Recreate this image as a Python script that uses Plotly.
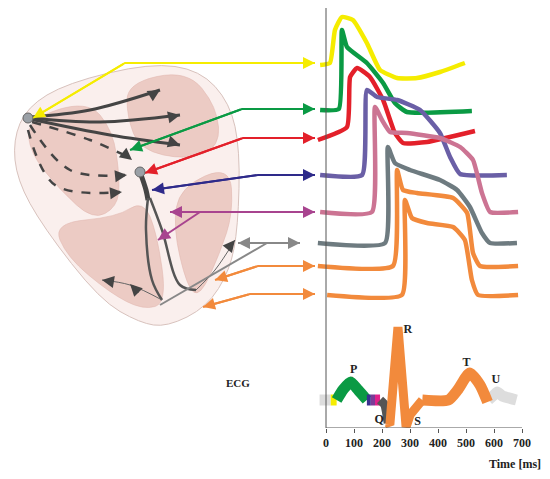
import plotly.graph_objects as go

# ---- action potentials: time [ms], level (px from top, drawn as negative) ----
yel_t = [-21, 14, 32, 57, 96, 146, 193, 254, 325, 407, 496]
yel_v = [65, 63, 30, 17, 20, 43, 70, 78, 78, 72, 63]
grn_t = [-21, 46, 57, 75, 146, 204, 246, 289, 521]
grn_v = [110, 109, 30, 47, 63, 83, 103, 112, 111]
red_t = [-29, 75, 86, 111, 157, 204, 246, 275, 361, 532]
red_v = [140, 127, 77, 68, 77, 100, 133, 143, 142, 131]
pur_t = [-21, 129, 146, 182, 254, 336, 407, 443, 479, 646]
pur_v = [175, 175, 90, 97, 100, 110, 133, 157, 174, 175]
pnk_t = [-21, 164, 175, 200, 229, 289, 407, 479, 525, 557, 586, 686]
pnk_v = [212, 212, 107, 120, 132, 133, 138, 147, 160, 193, 212, 212]
gry_t = [-29, 211, 221, 246, 300, 407, 468, 514, 557, 586, 682]
gry_v = [243, 243, 147, 163, 170, 180, 190, 207, 233, 243, 243]
or1_t = [-29, 239, 254, 275, 325, 454, 504, 525, 550, 686]
or1_v = [266, 266, 170, 190, 193, 198, 213, 253, 266, 266]
or2_t = [4, 271, 282, 307, 361, 454, 496, 521, 543, 686]
or2_v = [295, 295, 200, 218, 223, 227, 240, 280, 295, 295]

# ---- ECG segments ----
ecg_lead_t = [-23, 17]; ecg_lead_v = [400, 400]
ecg_sa_t = [17, 38]; ecg_sa_v = [400, 400]
ecg_p_t = [38, 60, 88, 115, 146]; ecg_p_v = [400, 390, 382, 390, 400]
ecg_pr_t = [88, 115, 140]; ecg_pr_v = [378, 386, 395]
ecg_av_t = [146, 160]; ecg_his_t = [160, 175]; ecg_bb_t = [175, 193]
ecg_pq_t = [193, 210, 222]; ecg_pq_v = [400, 405, 423]
ecg_qrs_t = [222, 228, 257, 286, 300, 344]
ecg_qrs_v = [423, 425, 327, 427, 415, 400]
ecg_t_t = [344, 437, 470, 513, 550, 577]
ecg_t_v = [400, 400, 390, 373, 385, 402]
ecg_u_t = [580, 600, 612, 630, 680]; ecg_u_v = [400, 395, 392, 396, 400]

ecg_labels = ["P", "Q", "R", "S", "T", "U"]
ecg_lab_t = [99, 190, 292, 327, 502, 607]
ecg_lab_v = [370, 420, 330, 422, 363, 380]
x_ticks = [0, 100, 200, 300, 400, 500, 600, 700]

YEL, GRN, RED, PUR, PNK, GRY, ORG = "#f5ec00", "#0a9a44", "#e3202a", "#6a5fa6", "#cc7493", "#6e7b80", "#f28a3c"
OFF = 8  # page body offset

fig = go.Figure()

def ap(t, v, c, w=4.5, shape="spline", sm=0.45):
    fig.add_trace(go.Scatter(x=t, y=[-a for a in v], mode="lines",
                             line=dict(color=c, width=w, shape=shape, smoothing=sm),
                             hoverinfo="skip", showlegend=False))

for t, v, c in [(yel_t, yel_v, YEL), (grn_t, grn_v, GRN), (red_t, red_v, RED),
                (pur_t, pur_v, PUR), (pnk_t, pnk_v, PNK), (gry_t, gry_v, GRY),
                (or1_t, or1_v, ORG), (or2_t, or2_v, ORG)]:
    ap(t, v, c)

ap(ecg_lead_t, ecg_lead_v, "#dddddd", 11, "linear")
ap(ecg_u_t, ecg_u_v, "#dddddd", 11)
ap(ecg_sa_t, ecg_sa_v, YEL, 11, "linear")
ap(ecg_pr_t, ecg_pr_v, RED, 4)
ap(ecg_p_t, ecg_p_v, GRN, 11)
ap(ecg_av_t, [400, 400], "#3a2f8f", 11, "linear")
ap(ecg_his_t, [400, 400], "#7b3a96", 11, "linear")
ap(ecg_bb_t, [400, 400], "#e0208a", 11, "linear")
ap(ecg_pq_t, ecg_pq_v, "#555555", 9)
ap(ecg_t_t, ecg_t_v, ORG, 11, "spline", 0.6)
ap(ecg_qrs_t, ecg_qrs_v, ORG, 9, "linear")

fig.add_trace(go.Scatter(x=ecg_lab_t, y=[-a for a in ecg_lab_v], mode="text", text=ecg_labels,
                         textfont=dict(family="Liberation Serif", size=12, color="#222", weight="bold"),
                         hoverinfo="skip", showlegend=False))

# ---- illustration (pixel coords, x2/y2) ----
def spath(pts):
    n = len(pts)
    mids = [((pts[i][0] + pts[(i + 1) % n][0]) / 2, (pts[i][1] + pts[(i + 1) % n][1]) / 2) for i in range(n)]
    d = f"M {mids[-1][0]},{mids[-1][1]} "
    for i in range(n):
        d += f"Q {pts[i][0]},{pts[i][1]} {mids[i][0]},{mids[i][1]} "
    return d + "Z"

shapes = []
heart = [(13, 140), (27, 107), (67, 83), (150, 63), (200, 70), (230, 103), (240, 150), (238, 227),
         (230, 270), (207, 307), (167, 327), (140, 323), (100, 300), (43, 227), (17, 180)]
shapes.append(dict(type="path", path=spath(heart), xref="x2", yref="y2", fillcolor="#faefed",
                   line=dict(color="#d8c2bd", width=1), layer="below"))
chambers = [
    [(27, 120), (87, 100), (113, 130), (120, 180), (117, 207), (93, 220), (60, 190), (30, 153)],
    [(127, 83), (187, 70), (217, 107), (220, 147), (187, 160), (140, 150), (127, 117)],
    [(53, 223), (117, 217), (143, 200), (157, 233), (167, 303), (143, 310), (110, 293), (67, 257)],
    [(180, 187), (230, 165), (233, 213), (220, 253), (200, 297), (187, 287), (173, 227)],
]
for c in chambers:
    shapes.append(dict(type="path", path=spath(c), xref="x2", yref="y2", fillcolor="#eccbc4",
                       line=dict(color="#dfb3aa", width=0.5), layer="below"))

def line2(pts, color, width=2, dash="solid"):
    fig.add_trace(go.Scatter(x=[p[0] for p in pts], y=[p[1] for p in pts], xaxis="x2", yaxis="y2",
                             mode="lines", line=dict(color=color, width=width, dash=dash, shape="spline"),
                             hoverinfo="skip", showlegend=False))

line2([(140, 172), (146, 190), (148, 200)], "#444", 5)
line2([(148, 198), (146, 230), (152, 280), (162, 300)], "#555", 2.5)
line2([(150, 198), (162, 230), (180, 285), (196, 290)], "#555", 2.5)
line2([(162, 300), (130, 285), (102, 280)], "#666", 1)
line2([(196, 290), (215, 270), (235, 240)], "#666", 1)
line2([(30, 117), (90, 110), (160, 90)], "#444", 3)
line2([(30, 118), (100, 122), (180, 115)], "#444", 3)
line2([(30, 119), (110, 135), (180, 145)], "#444", 3)
line2([(32, 122), (90, 140), (130, 158)], "#444", 2.5, "dash")
line2([(30, 125), (70, 170), (125, 175)], "#444", 2.5, "dash")
line2([(28, 130), (55, 185), (120, 192)], "#444", 2.5, "dash")

ann = []
def arrow(x, y, ax, ay, color, w=2, head=2):
    ann.append(dict(x=x, y=y, ax=ax, ay=ay, xref="x2", yref="y2", axref="x2", ayref="y2",
                    text="", showarrow=True, arrowhead=head, arrowsize=1.2, arrowwidth=w, arrowcolor=color))

for hx, hy, tx, ty in [(160, 90, 150, 96), (180, 115, 170, 117), (180, 145, 170, 142),
                       (132, 160, 122, 152), (127, 175, 117, 176), (122, 192, 112, 193),
                       (102, 280, 108, 281), (235, 240, 230, 246), (130, 284, 140, 294)]:
    arrow(hx, hy, tx, ty, "#444", 2)

colored = [
    (YEL, [(33, 118), (125, 63), (315, 63)]),
    (GRN, [(130, 150), (242, 109), (315, 109)]),
    (RED, [(145, 173), (243, 138), (315, 138)]),
    ("#2e2a8a", [(152, 190), (258, 175), (315, 175)]),
    ("#a8448f", [(170, 212), (315, 212)]),
    ("#888", [(238, 243), (300, 243)]),
    (ORG, [(215, 280), (258, 266), (315, 266)]),
    (ORG, [(203, 307), (250, 294), (315, 294)]),
]
for c, pts in colored:
    fig.add_trace(go.Scatter(x=[p[0] for p in pts], y=[p[1] for p in pts], xaxis="x2", yaxis="y2",
                             mode="lines", line=dict(color=c, width=2), hoverinfo="skip", showlegend=False))
    arrow(pts[0][0], pts[0][1], pts[1][0], pts[1][1], c, 2, 2)
    arrow(pts[-1][0], pts[-1][1], pts[-2][0], pts[-2][1], c, 2, 2)
line2([(200, 212), (158, 240)], "#a8448f", 2)
arrow(158, 240, 170, 232, "#a8448f", 2)
fig.add_trace(go.Scatter(x=[267, 160], y=[243, 305], xaxis="x2", yaxis="y2", mode="lines",
                         line=dict(color="#888", width=2), hoverinfo="skip", showlegend=False))

fig.add_trace(go.Scatter(x=[28, 140], y=[118, 172], xaxis="x2", yaxis="y2", mode="markers",
                         marker=dict(size=10, color="#9aa0a6", line=dict(color="#666", width=1)),
                         hoverinfo="skip", showlegend=False))

shapes.append(dict(type="line", xref="x", yref="y", x0=0, x1=0, y0=-5, y1=-428, line=dict(color="#555", width=1)))
shapes.append(dict(type="line", xref="x", yref="y", x0=0, x1=700, y0=-428, y1=-428, line=dict(color="#555", width=1)))

ann.append(dict(x=238, y=383, xref="x2", yref="y2", text="ECG", showarrow=False,
                font=dict(family="Liberation Serif", size=11, color="#222", weight="bold")))
ann.append(dict(x=515, y=464, xref="x2", yref="y2", text="Time [ms]", showarrow=False,
                font=dict(family="Liberation Serif", size=12, color="#222", weight="bold")))

fig.update_layout(
    width=550, height=479, margin=dict(l=0, r=0, t=0, b=0, autoexpand=False),
    paper_bgcolor="white", plot_bgcolor="rgba(0,0,0,0)",
    shapes=shapes, annotations=ann,
    xaxis=dict(range=[-(326 - OFF) / 0.28, (550 - 326 + OFF) / 0.28], tickvals=x_ticks, ticks="outside", ticklen=4,
               tickcolor="#555", showgrid=False, zeroline=False, showline=False, automargin=False,
               tickfont=dict(family="Liberation Serif", size=12, color="#222", weight="bold"),
               domain=[0, 1], anchor="y"),
    yaxis=dict(range=[-428, -OFF], domain=[1 - (428 - OFF) / 479, 1], visible=False, anchor="x", automargin=False),
    xaxis2=dict(range=[OFF, 550 + OFF], domain=[0, 1], visible=False, anchor="y2", automargin=False),
    yaxis2=dict(range=[479 + OFF, OFF], domain=[0, 1], visible=False, anchor="x2", automargin=False),
)
fig.write_html("out.html")
